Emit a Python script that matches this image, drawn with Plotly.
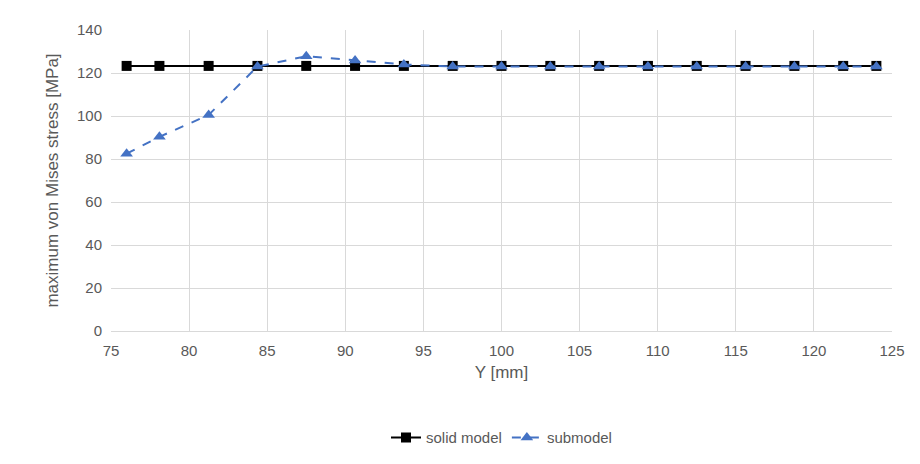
import plotly.graph_objects as go

y_mm = [76, 78.1, 81.25, 84.375, 87.5, 90.625, 93.75, 96.875, 100, 103.125, 106.25, 109.375, 112.5, 115.625, 118.75, 121.875, 124]
solid = [123.3]*17
submodel = [82.5, 90.3, 100.5, 123.0, 127.8, 125.8, 124.0, 123.0, 123.0, 123.0, 123.0, 123.0, 123.0, 123.0, 123.0, 123.0, 123.0]

fig = go.Figure()
fig.add_trace(go.Scatter(x=y_mm, y=solid, name="solid model", mode="lines+markers",
                         line=dict(color="black", width=2), marker=dict(symbol="square", size=10, color="black")))
fig.add_trace(go.Scatter(x=y_mm, y=submodel, name="submodel", mode="lines+markers",
                         line=dict(color="#4472C4", width=2, dash="dash"),
                         marker=dict(symbol="triangle-up", size=11, color="#4472C4")))
ax = dict(showgrid=True, gridcolor="#d9d9d9", zeroline=False, ticks="", tickfont=dict(size=15, color="#595959"),
          title_font=dict(size=17, color="#595959"), automargin=False)
fig.update_layout(
    width=920, height=464, plot_bgcolor="white", paper_bgcolor="white",
    font=dict(family="Liberation Sans", color="#595959"),
    margin=dict(l=103, r=36, t=22, b=141),
    xaxis=dict(ax, range=[75, 125], dtick=5, title=dict(text="Y [mm]", standoff=8),
               showline=True, linecolor="#d9d9d9", ticklabelstandoff=6),
    yaxis=dict(ax, range=[0, 140], dtick=20, title=dict(text="maximum von Mises stress [MPa]", standoff=14),
               ticklabelstandoff=8),
    legend=dict(orientation="h", x=0.5, xanchor="center", y=-0.30, yanchor="top", font=dict(size=15, color="#595959")),
)
fig.write_html("out.html")
